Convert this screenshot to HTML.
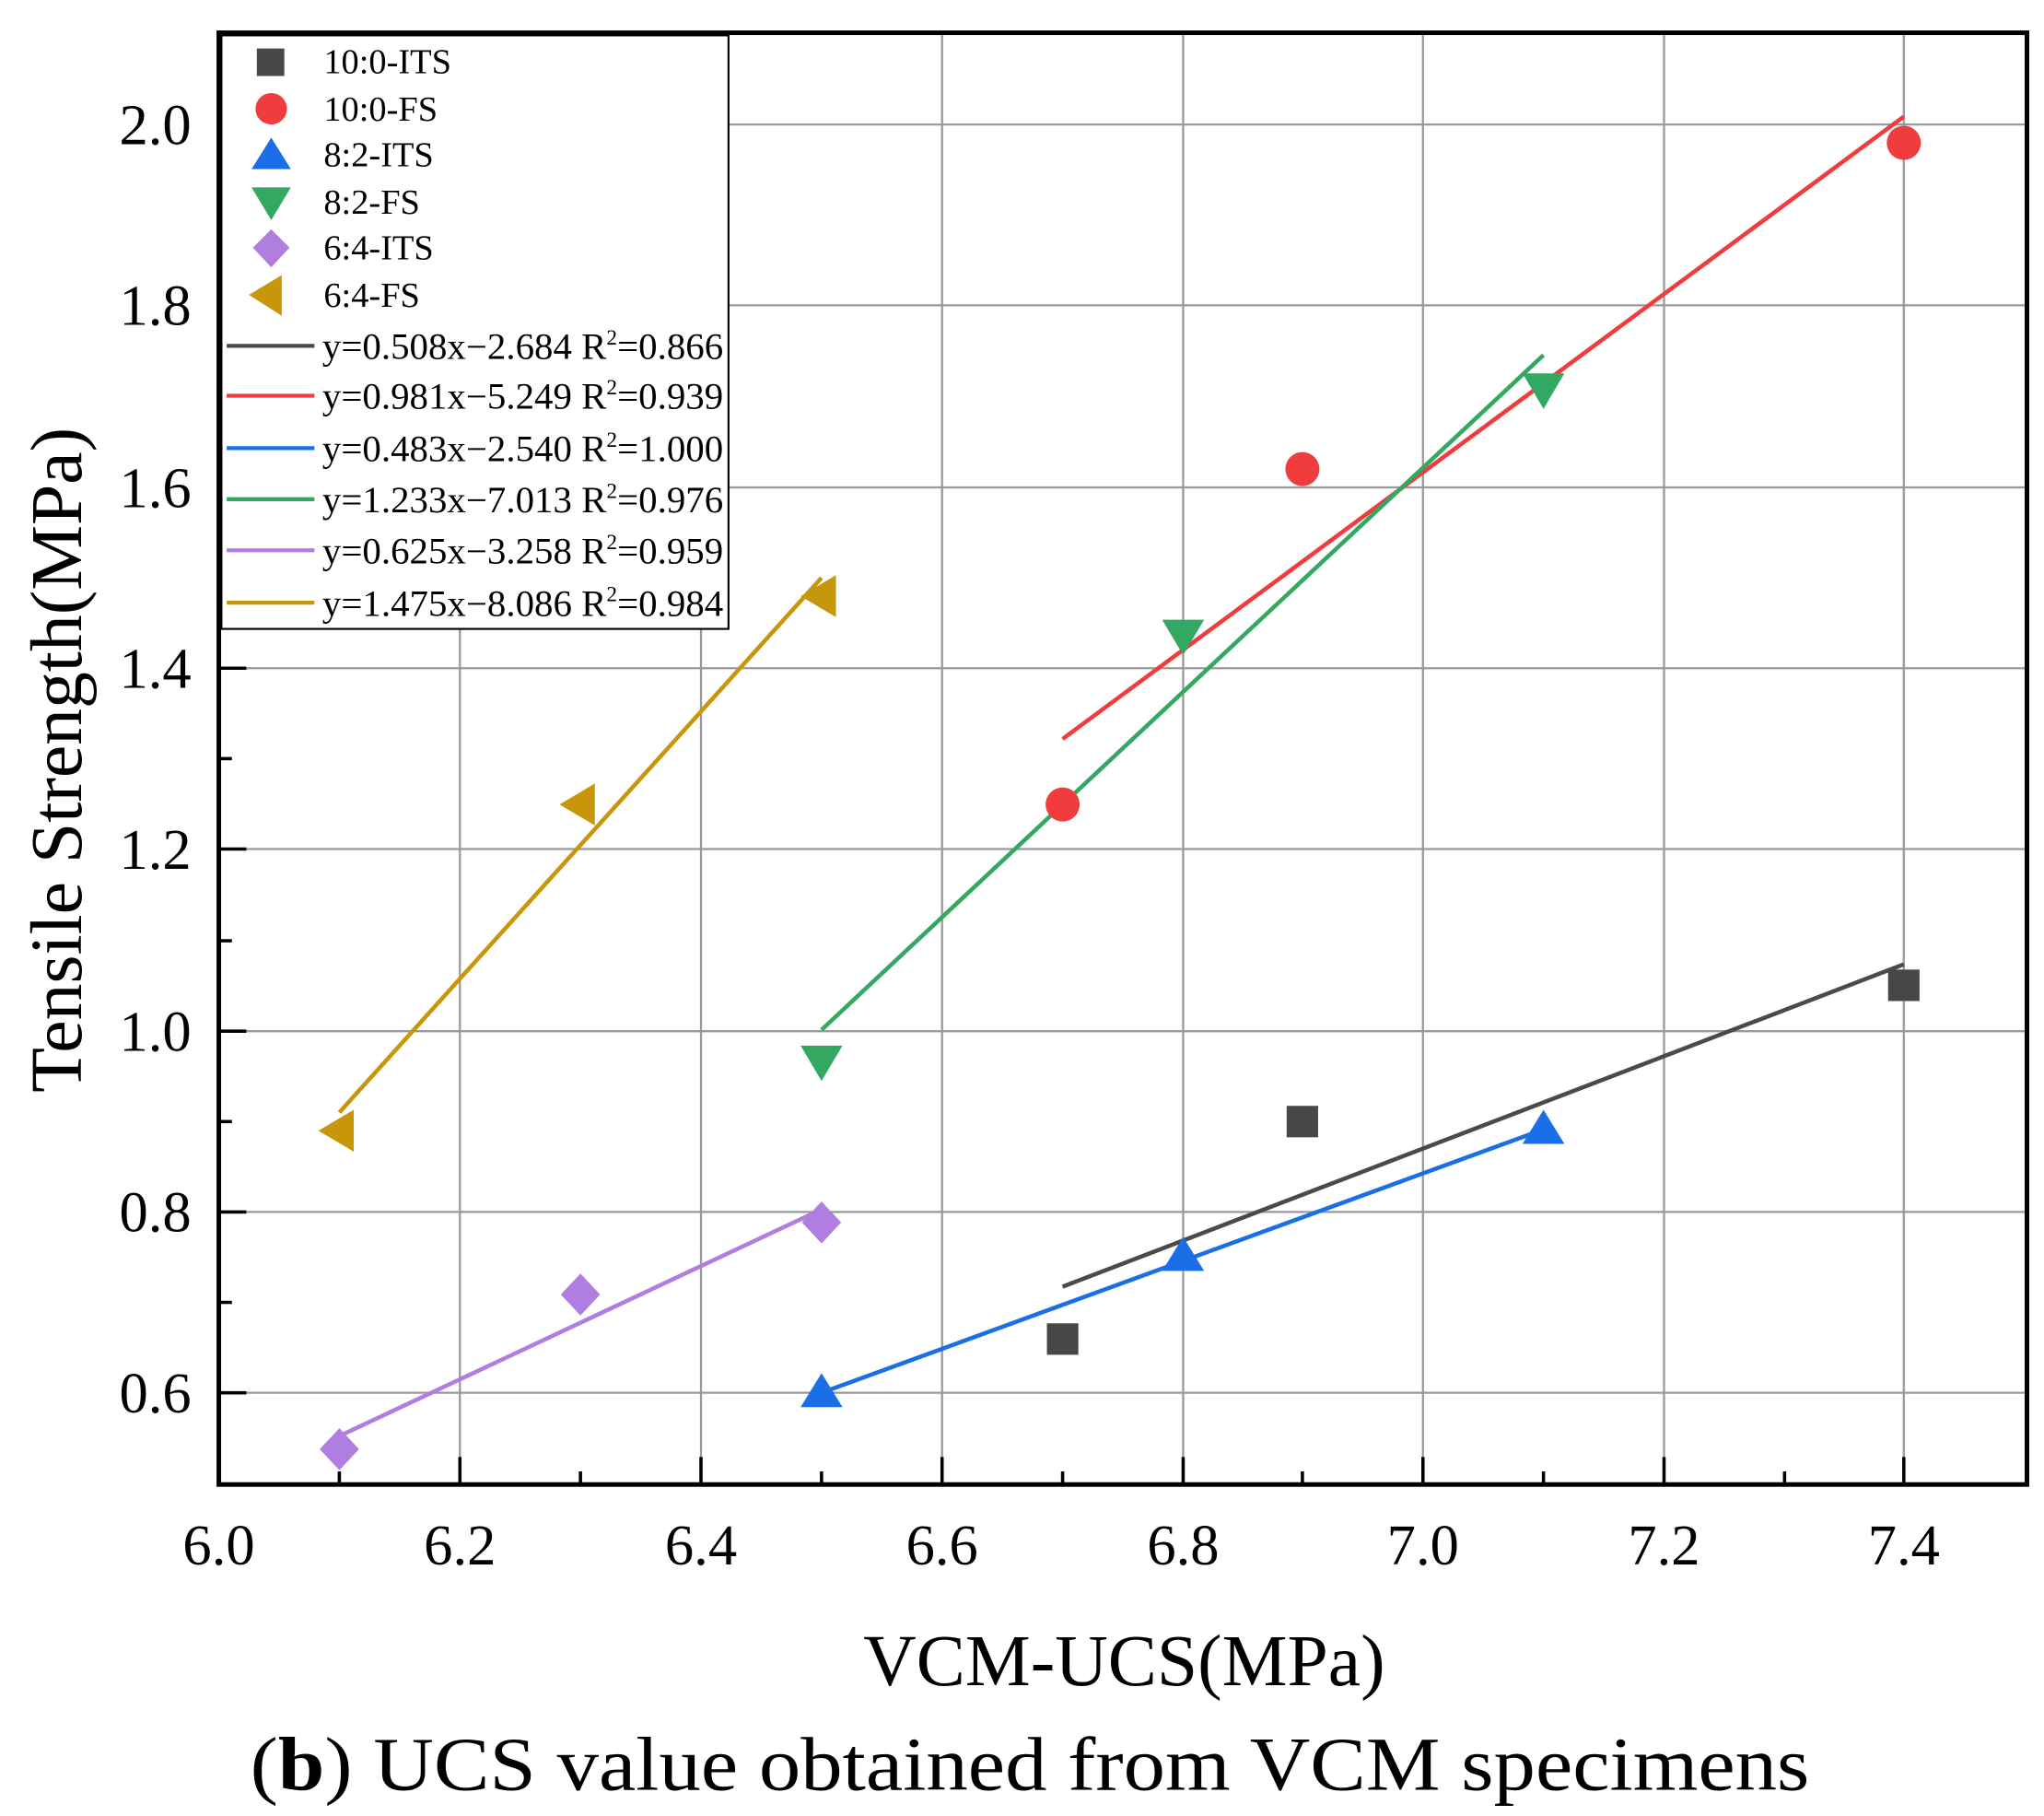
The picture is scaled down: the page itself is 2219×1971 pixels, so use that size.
<!DOCTYPE html>
<html><head><meta charset="utf-8"><style>html,body{margin:0;padding:0;background:#fff}svg{display:block}</style></head>
<body>
<svg width="2219" height="1971" viewBox="0 0 1560 1386" preserveAspectRatio="none" xmlns="http://www.w3.org/2000/svg" font-family="Liberation Serif, serif">
<rect width="1560" height="1386" fill="#fff"/>
<g stroke="#999" stroke-width="1.6">
<line x1="351" y1="25" x2="351" y2="1133"/><line x1="535" y1="25" x2="535" y2="1133"/><line x1="719" y1="25" x2="719" y2="1133"/><line x1="903" y1="25" x2="903" y2="1133"/><line x1="1086" y1="25" x2="1086" y2="1133"/><line x1="1270" y1="25" x2="1270" y2="1133"/><line x1="1453" y1="25" x2="1453" y2="1133"/>
<line x1="167" y1="95" x2="1547" y2="95"/><line x1="167" y1="233" x2="1547" y2="233"/><line x1="167" y1="372" x2="1547" y2="372"/><line x1="167" y1="510" x2="1547" y2="510"/><line x1="167" y1="648" x2="1547" y2="648"/><line x1="167" y1="787" x2="1547" y2="787"/><line x1="167" y1="925" x2="1547" y2="925"/><line x1="167" y1="1063" x2="1547" y2="1063"/>
</g>
<g stroke="#000" stroke-width="2.5">
<line x1="259" y1="1133" x2="259" y2="1123"/><line x1="351" y1="1133" x2="351" y2="1112"/><line x1="443" y1="1133" x2="443" y2="1123"/><line x1="535" y1="1133" x2="535" y2="1112"/><line x1="627" y1="1133" x2="627" y2="1123"/><line x1="719" y1="1133" x2="719" y2="1112"/><line x1="811" y1="1133" x2="811" y2="1123"/><line x1="903" y1="1133" x2="903" y2="1112"/><line x1="994" y1="1133" x2="994" y2="1123"/><line x1="1086" y1="1133" x2="1086" y2="1112"/><line x1="1178" y1="1133" x2="1178" y2="1123"/><line x1="1270" y1="1133" x2="1270" y2="1112"/><line x1="1362" y1="1133" x2="1362" y2="1123"/><line x1="1453" y1="1133" x2="1453" y2="1112"/>
<line x1="167" y1="1063" x2="188" y2="1063"/><line x1="167" y1="994" x2="177" y2="994"/><line x1="167" y1="925" x2="188" y2="925"/><line x1="167" y1="856" x2="177" y2="856"/><line x1="167" y1="787" x2="188" y2="787"/><line x1="167" y1="718" x2="177" y2="718"/><line x1="167" y1="648" x2="188" y2="648"/><line x1="167" y1="579" x2="177" y2="579"/><line x1="167" y1="510" x2="188" y2="510"/>
</g>
<g stroke-width="3.2" fill="none">
<line x1="811" y1="982" x2="1453" y2="736" stroke="#4a4a4a"/>
<line x1="811" y1="564" x2="1453" y2="89" stroke="#f03c3c"/>
<line x1="627" y1="1063" x2="1178" y2="862" stroke="#1a6ee6"/>
<line x1="627" y1="786" x2="1178" y2="271" stroke="#33a862"/>
<line x1="259" y1="1096" x2="627" y2="923" stroke="#b07ee0"/>
<line x1="259" y1="849" x2="627" y2="441" stroke="#c8960a"/>
</g>
<g fill="#474747"><rect x="799" y="1010" width="24" height="24"/><rect x="982" y="844" width="24" height="24"/><rect x="1441" y="740" width="24" height="24"/></g>
<g fill="#f03c3c"><circle cx="811" cy="614" r="13"/><circle cx="994" cy="358" r="13"/><circle cx="1453" cy="109" r="13"/></g>
<g fill="#1a6ee6"><polygon points="627,1048 643,1074 611,1074"/><polygon points="903,944 919,970 887,970"/><polygon points="1178,847 1194,873 1162,873"/></g>
<g fill="#33a862"><polygon points="611,798 643,798 627,825"/><polygon points="887,473 919,473 903,500"/><polygon points="1162,285 1194,285 1178,312"/></g>
<g fill="#b07ee0"><polygon points="259,1090 274,1106 259,1122 244,1106"/><polygon points="443,972 458,988 443,1004 428,988"/><polygon points="627,917 642,933 627,949 612,933"/></g>
<g fill="#c8960a"><polygon points="243,863 270,847 270,879"/><polygon points="427,614 454,598 454,630"/><polygon points="611,455 638,439 638,471"/></g>
<rect x="169" y="27" width="387" height="453" fill="#fff" stroke="#000" stroke-width="1.5"/>
<rect x="196" y="37" width="21" height="21" fill="#474747"/>
<circle cx="207" cy="83" r="12" fill="#f03c3c"/>
<polygon points="207,105 222,129 192,129" fill="#1a6ee6"/>
<polygon points="192,143 222,143 207,168" fill="#33a862"/>
<polygon points="207,175 221,189 207,204 193,189" fill="#b07ee0"/>
<polygon points="190,225 215,210 215,241" fill="#c8960a"/>
<g font-size="27" fill="#000">
<text x="247" y="56">10:0-ITS</text><text x="247" y="92">10:0-FS</text><text x="247" y="127">8:2-ITS</text><text x="247" y="163">8:2-FS</text><text x="247" y="198">6:4-ITS</text><text x="247" y="234">6:4-FS</text>
</g>
<g stroke-width="3">
<line x1="173" y1="264" x2="240" y2="264" stroke="#4a4a4a"/><line x1="173" y1="302" x2="240" y2="302" stroke="#f03c3c"/><line x1="173" y1="342" x2="240" y2="342" stroke="#1a6ee6"/><line x1="173" y1="381" x2="240" y2="381" stroke="#33a862"/><line x1="173" y1="420" x2="240" y2="420" stroke="#b07ee0"/><line x1="173" y1="460" x2="240" y2="460" stroke="#c8960a"/>
</g>
<g font-size="28" fill="#000">
<text x="246" y="274" textLength="306" lengthAdjust="spacingAndGlyphs">y=0.508x−2.684 R<tspan font-size="16" dy="-11">2</tspan><tspan dy="11">=0.866</tspan></text>
<text x="246" y="312" textLength="306" lengthAdjust="spacingAndGlyphs">y=0.981x−5.249 R<tspan font-size="16" dy="-11">2</tspan><tspan dy="11">=0.939</tspan></text>
<text x="246" y="352" textLength="306" lengthAdjust="spacingAndGlyphs">y=0.483x−2.540 R<tspan font-size="16" dy="-11">2</tspan><tspan dy="11">=1.000</tspan></text>
<text x="246" y="391" textLength="306" lengthAdjust="spacingAndGlyphs">y=1.233x−7.013 R<tspan font-size="16" dy="-11">2</tspan><tspan dy="11">=0.976</tspan></text>
<text x="246" y="430" textLength="306" lengthAdjust="spacingAndGlyphs">y=0.625x−3.258 R<tspan font-size="16" dy="-11">2</tspan><tspan dy="11">=0.959</tspan></text>
<text x="246" y="470" textLength="306" lengthAdjust="spacingAndGlyphs">y=1.475x−8.086 R<tspan font-size="16" dy="-11">2</tspan><tspan dy="11">=0.984</tspan></text>
</g>
<rect x="167" y="25" width="1380" height="1108" fill="none" stroke="#000" stroke-width="3.5"/>
<g font-size="44" fill="#000" text-anchor="middle">
<text x="167" y="1194">6.0</text><text x="351" y="1194">6.2</text><text x="535" y="1194">6.4</text><text x="719" y="1194">6.6</text><text x="903" y="1194">6.8</text><text x="1086" y="1194">7.0</text><text x="1270" y="1194">7.2</text><text x="1453" y="1194">7.4</text>
</g>
<g font-size="44" fill="#000" text-anchor="end">
<text x="146" y="110">2.0</text><text x="146" y="248">1.8</text><text x="146" y="387">1.6</text><text x="146" y="525">1.4</text><text x="146" y="663">1.2</text><text x="146" y="802">1.0</text><text x="146" y="940">0.8</text><text x="146" y="1078">0.6</text>
</g>
<text x="858" y="1286" font-size="56" text-anchor="middle">VCM-UCS(MPa)</text>
<text transform="translate(62,580) rotate(-90)" font-size="56" text-anchor="middle">Tensile Strength(MPa)</text>
<text x="786" y="1366" font-size="58" text-anchor="middle" textLength="1190" lengthAdjust="spacingAndGlyphs">(<tspan font-weight="bold">b</tspan>) UCS value obtained from VCM specimens</text>
</svg>
</body></html>
